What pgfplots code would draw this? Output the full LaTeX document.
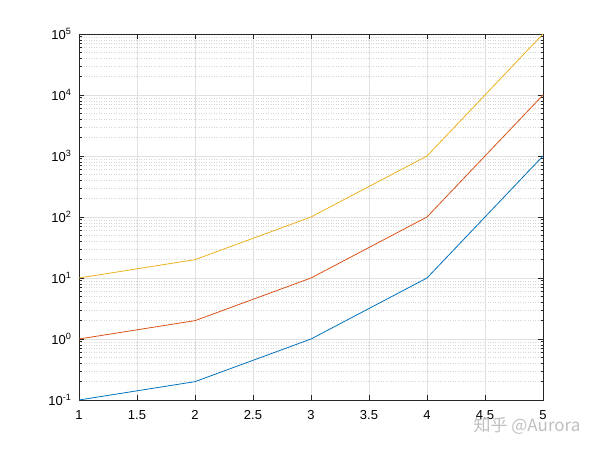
\documentclass[border=0pt]{standalone}
\usepackage{fontspec}
\setmainfont{Liberation Sans}
\newfontfamily\cjk{Noto Sans CJK SC}
\usepackage{pgfplots}
\pgfplotsset{compat=1.18}

% MATLAB default line colours
\definecolor{mblue}{rgb}{0,0.447,0.741}
\definecolor{morange}{rgb}{0.850,0.325,0.098}
\definecolor{myellow}{rgb}{0.929,0.694,0.125}
\definecolor{axgray}{rgb}{0.15,0.15,0.15}

\begin{document}
\begin{tikzpicture}
\useasboundingbox (0,0) rectangle (600bp,450bp);
\begin{axis}[
    at={(79bp,50bp)}, anchor=south west,
    scale only axis,
    width=464bp, height=366bp,
    ymode=log,
    xmin=1, xmax=5,
    ymin=0.1, ymax=1e5,
    xtick={1,1.5,2,2.5,3,3.5,4,4.5,5},
    xticklabels={1,1.5,2,2.5,3,3.5,4,4.5,5},
    ytick={0.1,1,10,100,1000,10000,100000},
    yticklabels={10\textsuperscript{-1},10\textsuperscript{0},10\textsuperscript{1},10\textsuperscript{2},10\textsuperscript{3},10\textsuperscript{4},10\textsuperscript{5}},
    minor ytick={0.2,0.3,0.4,0.5,0.6,0.7,0.8,0.9,
                 2,3,4,5,6,7,8,9,
                 20,30,40,50,60,70,80,90,
                 200,300,400,500,600,700,800,900,
                 2000,3000,4000,5000,6000,7000,8000,9000,
                 20000,30000,40000,50000,60000,70000,80000,90000},
    /pgf/number format/assume math mode=true,
    tick align=inside,
    major tick length=5bp,
    minor tick length=2.5bp,
    xmajorgrids=true,
    ymajorgrids=true,
    yminorgrids=true,
    major grid style={black!12, line width=0.5bp},
    minor grid style={black!16, line width=0.5bp, dotted},
    axis line style={axgray, line width=0.6bp},
    tick style={axgray, line width=0.6bp},
    ticklabel style={font=\fontsize{13bp}{15bp}\selectfont, text=black},
    xticklabel style={yshift=-7bp},
    yticklabel style={xshift=-4bp},
]

\addplot[color=mblue, line width=0.8bp] coordinates {
    (1,0.1)(2,0.2)(3,1)(4,10)(5,1000)
};

\addplot[color=morange, line width=0.8bp] coordinates {
    (1,1)(2,2)(3,10)(4,100)(5,10000)
};

\addplot[color=myellow, line width=0.8bp] coordinates {
    (1,10)(2,20)(3,100)(4,1000)(5,100000)
};

\end{axis}
\node[text=black!25, font=\cjk\fontsize{17bp}{20bp}\selectfont] at (527bp,24bp) {知乎 @Aurora};
\end{tikzpicture}
\end{document}
